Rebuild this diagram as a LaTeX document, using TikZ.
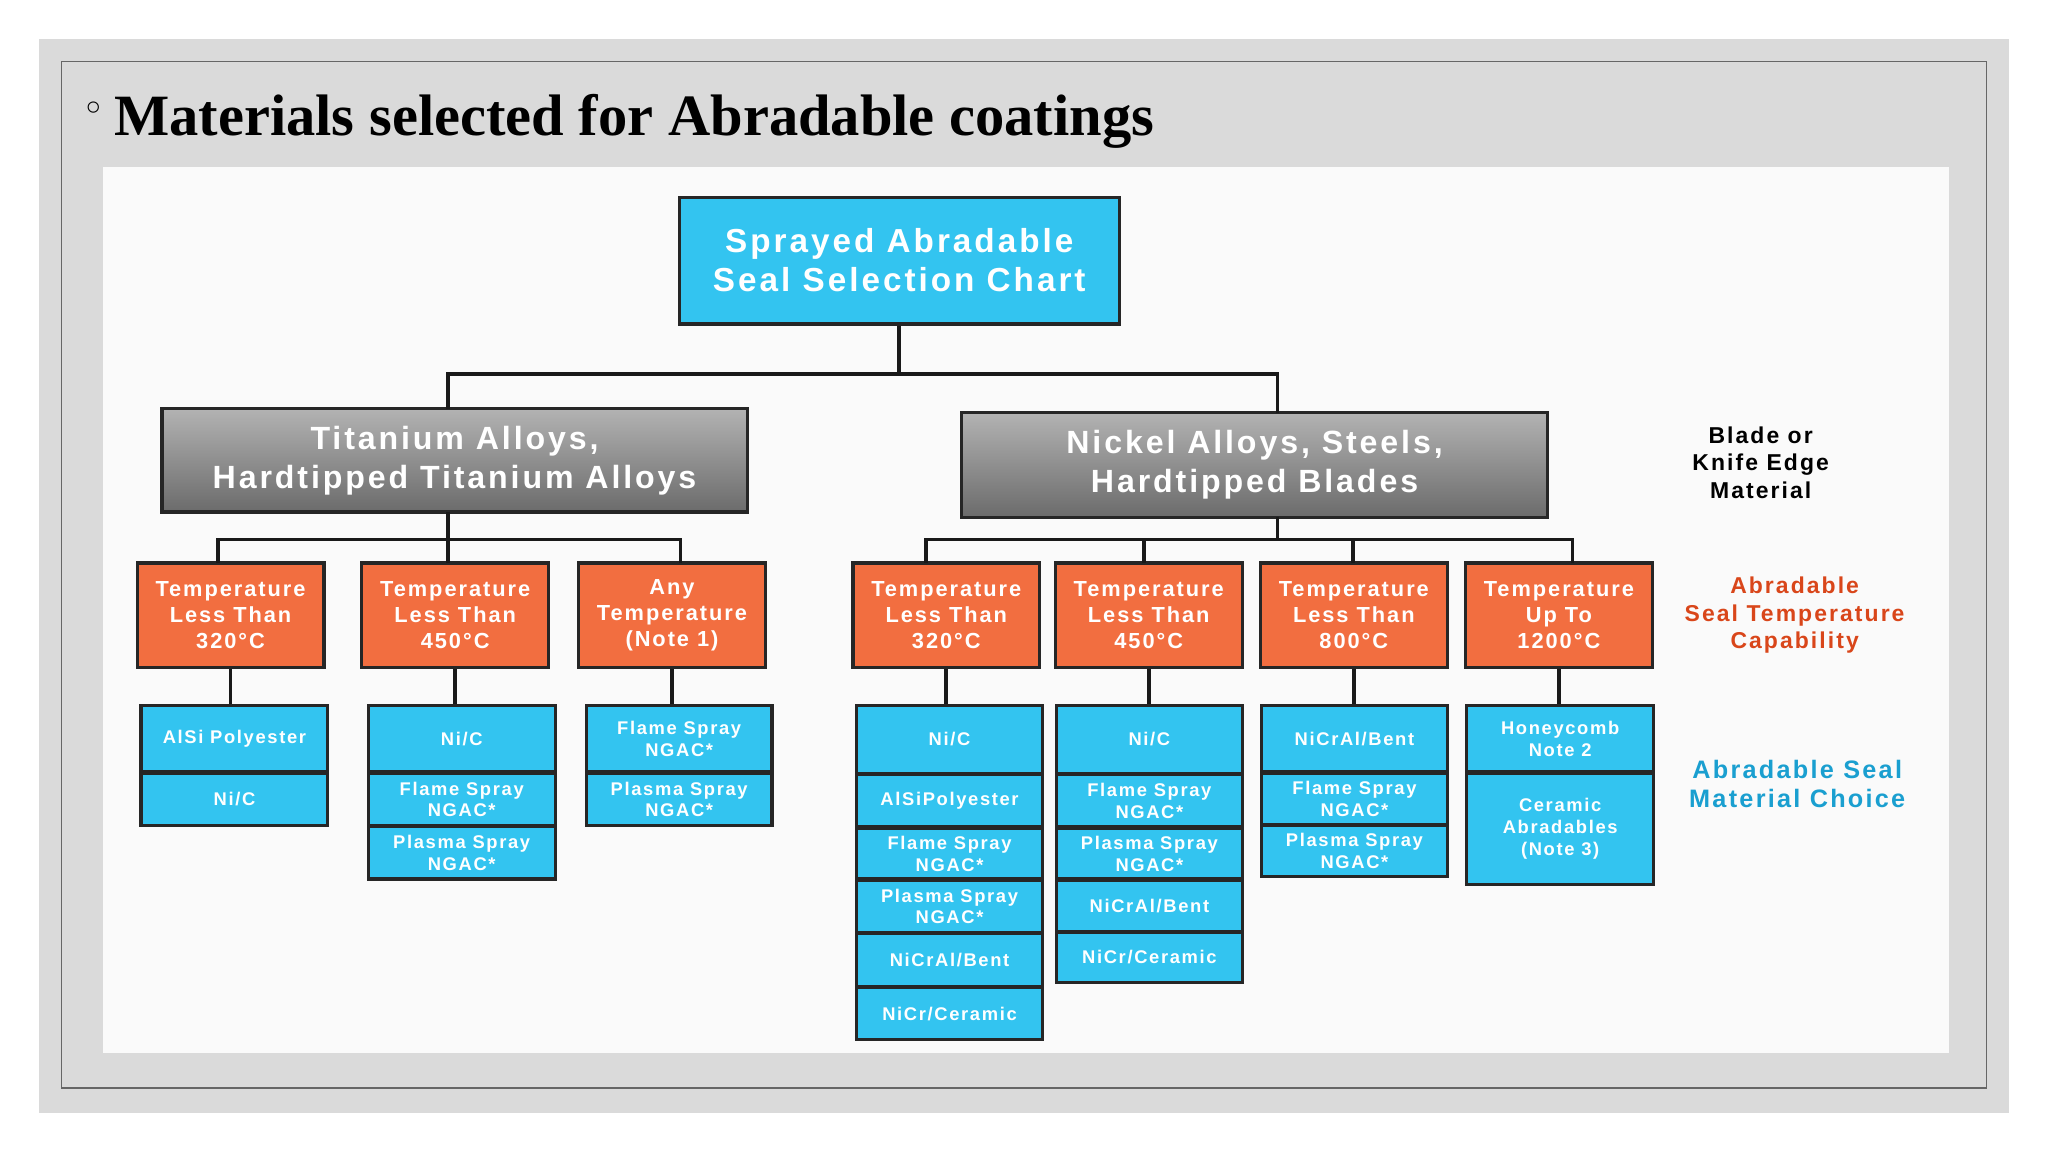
\documentclass[tikz,border=0pt]{standalone}
\usepackage{fontspec}
\setmainfont{Liberation Serif}
\newfontfamily\chartf[LetterSpace=9]{Liberation Sans Bold}
\newfontfamily\djv{DejaVu Sans}
\definecolor{bluebox}{HTML}{33C4F0}
\definecolor{orbox}{HTML}{F26E40}
\definecolor{redlab}{HTML}{D9461A}
\definecolor{bluelab}{HTML}{1A9FD0}
\definecolor{bgg}{HTML}{DADADA}
\tikzset{
 base/.style={draw=black!85, line width=1.4pt, inner sep=0pt, align=center, text=white, font=\chartf},
 bluebx/.style={base, fill=bluebox, font=\chartf\fontsize{8}{9.5}\selectfont},
 orbx/.style={base, fill=orbox, font=\chartf\fontsize{9.5}{11.3}\selectfont},
 graybx/.style={base, top color=black!30, bottom color=black!58, font=\chartf\fontsize{14}{17}\selectfont},
 topbx/.style={base, fill=bluebox, font=\chartf\fontsize{14.5}{17}\selectfont},
 conn/.style={draw=black!90, line width=1.6pt},
 lab/.style={align=center, font=\chartf\fontsize{10}{12}\selectfont}
}
\newcommand\bx[7]{\node[#6, minimum width={(#4-#2)*0.02cm}, minimum height={(#5-#3)*0.02cm}] (#1) at ({(#2+#4)/2},{(#3+#5)/2}) {#7};}
\begin{document}
\begin{tikzpicture}[x=0.02cm,y=-0.02cm]
\useasboundingbox (0,0) rectangle (1568,882);
\fill[white] (0,0) rectangle (1568,882);
\fill[bgg] (30,30) rectangle (1538,852);
\draw[black!60, line width=0.6pt] (47,47) rectangle (1521,833);
\fill[white!98!black] (79,128) rectangle (1492,806);
\node[anchor=west, font=\bfseries\fontsize{25.5}{28}\selectfont] (title) at (58,93) {{\djv\fontsize{14}{14}\selectfont\raisebox{7pt}{◦}}\,Materials selected for Abradable coatings};
% top and groups
\bx{top}{520}{151}{857}{248}{topbx}{Sprayed Abradable\\Seal Selection Chart}
\bx{ti}{124}{313}{572}{392}{graybx}{Titanium Alloys,\\Hardtipped Titanium Alloys}
\bx{ni}{736}{316}{1185}{396}{graybx}{Nickel Alloys, Steels,\\Hardtipped Blades}
% orange
\bx{o1}{105}{431}{248}{511}{orbx}{Temperature\\Less Than\\320°C}
\bx{o2}{277}{431}{420}{511}{orbx}{Temperature\\Less Than\\450°C}
\bx{o3}{443}{431}{586}{511}{orbx}{Any\\Temperature\\(Note 1)}
\bx{o4}{653}{431}{796}{511}{orbx}{Temperature\\Less Than\\320°C}
\bx{o5}{808}{431}{951}{511}{orbx}{Temperature\\Less Than\\450°C}
\bx{o6}{965}{431}{1108}{511}{orbx}{Temperature\\Less Than\\800°C}
\bx{o7}{1122}{431}{1265}{511}{orbx}{Temperature\\Up To\\1200°C}
% blue col1
\bx{a1}{108}{540}{251}{591}{bluebx}{AlSi Polyester}
\bx{a2}{108}{592}{251}{632}{bluebx}{Ni/C}
% col2
\bx{b1}{282}{540}{425}{591}{bluebx}{Ni/C}
\bx{b2}{282}{592}{425}{632}{bluebx}{Flame Spray\\NGAC*}
\bx{b3}{282}{633}{425}{673}{bluebx}{Plasma Spray\\NGAC*}
% col3
\bx{c1}{449}{540}{591}{591}{bluebx}{Flame Spray\\NGAC*}
\bx{c2}{449}{592}{591}{632}{bluebx}{Plasma Spray\\NGAC*}
% col4
\bx{d1}{656}{540}{798}{592}{bluebx}{Ni/C}
\bx{d2}{656}{593}{798}{633}{bluebx}{AlSiPolyester}
\bx{d3}{656}{634}{798}{673}{bluebx}{Flame Spray\\NGAC*}
\bx{d4}{656}{674}{798}{714}{bluebx}{Plasma Spray\\NGAC*}
\bx{d5}{656}{715}{798}{755}{bluebx}{NiCrAl/Bent}
\bx{d6}{656}{756}{798}{796}{bluebx}{NiCr/Ceramic}
% col5
\bx{e1}{809}{540}{951}{592}{bluebx}{Ni/C}
\bx{e2}{809}{593}{951}{633}{bluebx}{Flame Spray\\NGAC*}
\bx{e3}{809}{634}{951}{673}{bluebx}{Plasma Spray\\NGAC*}
\bx{e4}{809}{674}{951}{713}{bluebx}{NiCrAl/Bent}
\bx{e5}{809}{714}{951}{752}{bluebx}{NiCr/Ceramic}
% col6
\bx{f1}{966}{540}{1108}{591}{bluebx}{NiCrAl/Bent}
\bx{f2}{966}{592}{1108}{631}{bluebx}{Flame Spray\\NGAC*}
\bx{f3}{966}{632}{1108}{671}{bluebx}{Plasma Spray\\NGAC*}
% col7
\bx{g1}{1123}{540}{1266}{591}{bluebx}{Honeycomb\\Note 2}
\bx{g2}{1123}{592}{1266}{677}{bluebx}{Ceramic\\Abradables\\(Note 3)}
% labels
\node[lab] (l1) at (1348,354) {Blade or\\Knife Edge\\Material};
\node[lab, text=redlab] (l2) at (1374,471) {Abradable\\Seal Temperature\\Capability};
\node[lab, text=bluelab, font=\chartf\fontsize{11}{12.5}\selectfont] (l3) at (1376,600) {Abradable Seal\\Material Choice};
% connector points
\coordinate (t1) at (343,313); \coordinate (t2) at (978,316);
\coordinate (q1) at (167,431); \coordinate (q2) at (343,431); \coordinate (q3) at (521,431);
\coordinate (q4) at (709,431); \coordinate (q5) at (876,431); \coordinate (q6) at (1036,431); \coordinate (q7) at (1204,431);
\coordinate (s1) at (343,392); \coordinate (s2) at (978,396);
\draw[conn] (top.south) -- ++(0,37) -| (t1);
\draw[conn] (top.south) -- ++(0,37) -| (t2);
\foreach \o in {q1,q2,q3}{\draw[conn] (s1) -- ++(0,21) -| (\o);}
\foreach \o in {q4,q5,q6,q7}{\draw[conn] (s2) -- ++(0,17) -| (\o);}
\foreach \o/\b in {o1/a1,o2/b1,o3/c1,o4/d1,o5/e1,o6/f1,o7/g1}{\draw[conn] (\o.south) -- (\o.south |- \b.north);}
\end{tikzpicture}
\end{document}
